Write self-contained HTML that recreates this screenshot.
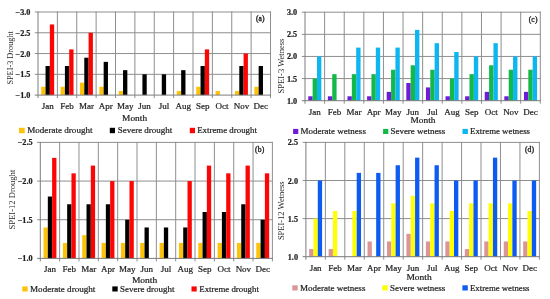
<!DOCTYPE html>
<html><head><meta charset="utf-8"><title>SPEI drought and wetness</title>
<style>
html,body{margin:0;padding:0;background:#fff;}
body{width:550px;height:299px;overflow:hidden;}
svg{display:block;}
text{font-family:'Liberation Serif', 'DejaVu Serif', serif;fill:#1e1e1e;stroke:#1e1e1e;stroke-width:0.22px;}
text.ttl{stroke:none;fill:#2a2a2a;}
text.tag{stroke:#222;stroke-width:0.35px;fill:#222;}
</style></head><body>
<svg width="550" height="299" viewBox="0 0 550 299">
<rect width="550" height="299" fill="#fff"/>
<g id="panel-a">
<line x1="34.8" y1="12" x2="271" y2="12" stroke="#8e8e8e" stroke-width="1"/>
<line x1="34.8" y1="32.77" x2="271" y2="32.77" stroke="#8e8e8e" stroke-width="1"/>
<line x1="34.8" y1="53.55" x2="271" y2="53.55" stroke="#8e8e8e" stroke-width="1"/>
<line x1="34.8" y1="74.32" x2="271" y2="74.32" stroke="#8e8e8e" stroke-width="1"/>
<line x1="57.38" y1="11.5" x2="57.38" y2="98.1" stroke="#8e8e8e" stroke-width="1"/>
<line x1="76.75" y1="11.5" x2="76.75" y2="98.1" stroke="#8e8e8e" stroke-width="1"/>
<line x1="96.12" y1="11.5" x2="96.12" y2="98.1" stroke="#8e8e8e" stroke-width="1"/>
<line x1="115.5" y1="11.5" x2="115.5" y2="98.1" stroke="#8e8e8e" stroke-width="1"/>
<line x1="134.88" y1="11.5" x2="134.88" y2="98.1" stroke="#8e8e8e" stroke-width="1"/>
<line x1="154.25" y1="11.5" x2="154.25" y2="98.1" stroke="#8e8e8e" stroke-width="1"/>
<line x1="173.62" y1="11.5" x2="173.62" y2="98.1" stroke="#8e8e8e" stroke-width="1"/>
<line x1="193" y1="11.5" x2="193" y2="98.1" stroke="#8e8e8e" stroke-width="1"/>
<line x1="212.38" y1="11.5" x2="212.38" y2="98.1" stroke="#8e8e8e" stroke-width="1"/>
<line x1="231.75" y1="11.5" x2="231.75" y2="98.1" stroke="#8e8e8e" stroke-width="1"/>
<line x1="251.12" y1="11.5" x2="251.12" y2="98.1" stroke="#8e8e8e" stroke-width="1"/>
<line x1="270.5" y1="11.5" x2="270.5" y2="98.1" stroke="#8e8e8e" stroke-width="1"/>
<rect x="41.23" y="86.79" width="4.31" height="8.31" fill="#FDC30A"/>
<rect x="45.53" y="66.02" width="4.31" height="29.08" fill="#000000"/>
<rect x="49.84" y="24.46" width="4.31" height="70.64" fill="#FB0505"/>
<rect x="60.6" y="86.79" width="4.31" height="8.31" fill="#FDC30A"/>
<rect x="64.91" y="66.02" width="4.31" height="29.08" fill="#000000"/>
<rect x="69.22" y="49.39" width="4.31" height="45.7" fill="#FB0505"/>
<rect x="79.98" y="82.63" width="4.31" height="12.47" fill="#FDC30A"/>
<rect x="84.28" y="57.7" width="4.31" height="37.39" fill="#000000"/>
<rect x="88.59" y="32.77" width="4.31" height="62.32" fill="#FB0505"/>
<rect x="99.35" y="86.79" width="4.31" height="8.31" fill="#FDC30A"/>
<rect x="103.66" y="61.86" width="4.31" height="33.24" fill="#000000"/>
<rect x="118.73" y="90.94" width="4.31" height="4.16" fill="#FDC30A"/>
<rect x="123.03" y="70.17" width="4.31" height="24.93" fill="#000000"/>
<rect x="142.41" y="74.32" width="4.31" height="20.78" fill="#000000"/>
<rect x="161.78" y="74.32" width="4.31" height="20.78" fill="#000000"/>
<rect x="176.85" y="90.94" width="4.31" height="4.16" fill="#FDC30A"/>
<rect x="181.16" y="70.17" width="4.31" height="24.93" fill="#000000"/>
<rect x="196.23" y="86.79" width="4.31" height="8.31" fill="#FDC30A"/>
<rect x="200.53" y="66.02" width="4.31" height="29.08" fill="#000000"/>
<rect x="204.84" y="49.39" width="4.31" height="45.7" fill="#FB0505"/>
<rect x="215.6" y="90.94" width="4.31" height="4.16" fill="#FDC30A"/>
<rect x="234.98" y="90.94" width="4.31" height="4.16" fill="#FDC30A"/>
<rect x="239.28" y="66.02" width="4.31" height="29.08" fill="#000000"/>
<rect x="243.59" y="53.55" width="4.31" height="41.55" fill="#FB0505"/>
<rect x="254.35" y="86.79" width="4.31" height="8.31" fill="#FDC30A"/>
<rect x="258.66" y="66.02" width="4.31" height="29.08" fill="#000000"/>
<line x1="38" y1="11.5" x2="38" y2="98.1" stroke="#7c7c7c" stroke-width="1"/>
<line x1="34.8" y1="95.1" x2="271" y2="95.1" stroke="#7c7c7c" stroke-width="1"/>
<text x="30.4" y="15" text-anchor="end" font-weight="bold" font-size="8.2">−3.0</text>
<text x="30.4" y="35.77" text-anchor="end" font-weight="bold" font-size="8.2">−2.5</text>
<text x="30.4" y="56.55" text-anchor="end" font-weight="bold" font-size="8.2">−2.0</text>
<text x="30.4" y="77.32" text-anchor="end" font-weight="bold" font-size="8.2">−1.5</text>
<text x="30.4" y="98.1" text-anchor="end" font-weight="bold" font-size="8.2">−1.0</text>
<text x="47.69" y="108.6" text-anchor="middle" font-size="9">Jan</text>
<text x="67.06" y="108.6" text-anchor="middle" font-size="9">Feb</text>
<text x="86.44" y="108.6" text-anchor="middle" font-size="9">Mar</text>
<text x="105.81" y="108.6" text-anchor="middle" font-size="9">Apr</text>
<text x="125.19" y="108.6" text-anchor="middle" font-size="9">May</text>
<text x="144.56" y="108.6" text-anchor="middle" font-size="9">Jun</text>
<text x="163.94" y="108.6" text-anchor="middle" font-size="9">Jul</text>
<text x="183.31" y="108.6" text-anchor="middle" font-size="9">Aug</text>
<text x="202.69" y="108.6" text-anchor="middle" font-size="9">Sep</text>
<text x="222.06" y="108.6" text-anchor="middle" font-size="9">Oct</text>
<text x="241.44" y="108.6" text-anchor="middle" font-size="9">Nov</text>
<text x="260.81" y="108.6" text-anchor="middle" font-size="9">Dec</text>
<text x="122.1" y="120.9" font-size="9" textLength="25" lengthAdjust="spacingAndGlyphs">Month</text>
<text transform="translate(13,84.6) rotate(-90)" x="0" y="0" font-size="8.2" class="ttl" textLength="53.5" lengthAdjust="spacingAndGlyphs">SPEI-3 Drought</text>
<rect x="19" y="127.8" width="5.7" height="5.4" fill="#FDC30A"/>
<text x="27.2" y="133.4" font-size="9" textLength="65.4" lengthAdjust="spacingAndGlyphs">Moderate drought</text>
<rect x="109.8" y="127.8" width="5.2" height="5.4" fill="#000000"/>
<text x="117.7" y="133.4" font-size="9" textLength="54.6" lengthAdjust="spacingAndGlyphs">Severe drought</text>
<rect x="189.8" y="127.8" width="5.2" height="5.4" fill="#FB0505"/>
<text x="197.2" y="133.4" font-size="9" textLength="59.7" lengthAdjust="spacingAndGlyphs">Extreme drought</text>
<text x="255.9" y="20.5" font-size="7.6" class="tag" letter-spacing="0.15">(a)</text>
</g>
<g id="panel-b">
<line x1="37.1" y1="142.4" x2="272.9" y2="142.4" stroke="#8e8e8e" stroke-width="1"/>
<line x1="37.1" y1="181.07" x2="272.9" y2="181.07" stroke="#8e8e8e" stroke-width="1"/>
<line x1="37.1" y1="219.73" x2="272.9" y2="219.73" stroke="#8e8e8e" stroke-width="1"/>
<line x1="59.64" y1="141.9" x2="59.64" y2="261.4" stroke="#8e8e8e" stroke-width="1"/>
<line x1="78.98" y1="141.9" x2="78.98" y2="261.4" stroke="#8e8e8e" stroke-width="1"/>
<line x1="98.32" y1="141.9" x2="98.32" y2="261.4" stroke="#8e8e8e" stroke-width="1"/>
<line x1="117.67" y1="141.9" x2="117.67" y2="261.4" stroke="#8e8e8e" stroke-width="1"/>
<line x1="137.01" y1="141.9" x2="137.01" y2="261.4" stroke="#8e8e8e" stroke-width="1"/>
<line x1="156.35" y1="141.9" x2="156.35" y2="261.4" stroke="#8e8e8e" stroke-width="1"/>
<line x1="175.69" y1="141.9" x2="175.69" y2="261.4" stroke="#8e8e8e" stroke-width="1"/>
<line x1="195.03" y1="141.9" x2="195.03" y2="261.4" stroke="#8e8e8e" stroke-width="1"/>
<line x1="214.38" y1="141.9" x2="214.38" y2="261.4" stroke="#8e8e8e" stroke-width="1"/>
<line x1="233.72" y1="141.9" x2="233.72" y2="261.4" stroke="#8e8e8e" stroke-width="1"/>
<line x1="253.06" y1="141.9" x2="253.06" y2="261.4" stroke="#8e8e8e" stroke-width="1"/>
<line x1="272.4" y1="141.9" x2="272.4" y2="261.4" stroke="#8e8e8e" stroke-width="1"/>
<rect x="43.52" y="227.47" width="4.3" height="30.93" fill="#FDC30A"/>
<rect x="47.82" y="196.53" width="4.3" height="61.87" fill="#000000"/>
<rect x="52.12" y="157.87" width="4.3" height="100.53" fill="#FB0505"/>
<rect x="62.87" y="242.93" width="4.3" height="15.47" fill="#FDC30A"/>
<rect x="67.16" y="204.27" width="4.3" height="54.13" fill="#000000"/>
<rect x="71.46" y="173.33" width="4.3" height="85.07" fill="#FB0505"/>
<rect x="82.21" y="235.2" width="4.3" height="23.2" fill="#FDC30A"/>
<rect x="86.51" y="204.27" width="4.3" height="54.13" fill="#000000"/>
<rect x="90.8" y="165.6" width="4.3" height="92.8" fill="#FB0505"/>
<rect x="101.55" y="242.93" width="4.3" height="15.47" fill="#FDC30A"/>
<rect x="105.85" y="204.27" width="4.3" height="54.13" fill="#000000"/>
<rect x="110.14" y="181.07" width="4.3" height="77.33" fill="#FB0505"/>
<rect x="120.89" y="242.93" width="4.3" height="15.47" fill="#FDC30A"/>
<rect x="125.19" y="219.73" width="4.3" height="38.67" fill="#000000"/>
<rect x="129.49" y="181.07" width="4.3" height="77.33" fill="#FB0505"/>
<rect x="140.23" y="242.93" width="4.3" height="15.47" fill="#FDC30A"/>
<rect x="144.53" y="227.47" width="4.3" height="30.93" fill="#000000"/>
<rect x="159.57" y="242.93" width="4.3" height="15.47" fill="#FDC30A"/>
<rect x="163.87" y="227.47" width="4.3" height="30.93" fill="#000000"/>
<rect x="178.92" y="242.93" width="4.3" height="15.47" fill="#FDC30A"/>
<rect x="183.21" y="227.47" width="4.3" height="30.93" fill="#000000"/>
<rect x="187.51" y="181.07" width="4.3" height="77.33" fill="#FB0505"/>
<rect x="198.26" y="242.93" width="4.3" height="15.47" fill="#FDC30A"/>
<rect x="202.56" y="212" width="4.3" height="46.4" fill="#000000"/>
<rect x="206.85" y="165.6" width="4.3" height="92.8" fill="#FB0505"/>
<rect x="217.6" y="242.93" width="4.3" height="15.47" fill="#FDC30A"/>
<rect x="221.9" y="212" width="4.3" height="46.4" fill="#000000"/>
<rect x="226.19" y="173.33" width="4.3" height="85.07" fill="#FB0505"/>
<rect x="236.94" y="242.93" width="4.3" height="15.47" fill="#FDC30A"/>
<rect x="241.24" y="204.27" width="4.3" height="54.13" fill="#000000"/>
<rect x="245.54" y="165.6" width="4.3" height="92.8" fill="#FB0505"/>
<rect x="256.28" y="242.93" width="4.3" height="15.47" fill="#FDC30A"/>
<rect x="260.58" y="219.73" width="4.3" height="38.67" fill="#000000"/>
<rect x="264.88" y="173.33" width="4.3" height="85.07" fill="#FB0505"/>
<line x1="40.3" y1="141.9" x2="40.3" y2="261.4" stroke="#7c7c7c" stroke-width="1"/>
<line x1="37.1" y1="258.4" x2="272.9" y2="258.4" stroke="#7c7c7c" stroke-width="1"/>
<text x="32.6" y="145.4" text-anchor="end" font-weight="bold" font-size="8.2">−2.5</text>
<text x="32.6" y="184.07" text-anchor="end" font-weight="bold" font-size="8.2">−2.0</text>
<text x="32.6" y="222.73" text-anchor="end" font-weight="bold" font-size="8.2">−1.5</text>
<text x="32.6" y="261.4" text-anchor="end" font-weight="bold" font-size="8.2">−1.0</text>
<text x="49.97" y="272" text-anchor="middle" font-size="9">Jan</text>
<text x="69.31" y="272" text-anchor="middle" font-size="9">Feb</text>
<text x="88.65" y="272" text-anchor="middle" font-size="9">Mar</text>
<text x="108" y="272" text-anchor="middle" font-size="9">Apr</text>
<text x="127.34" y="272" text-anchor="middle" font-size="9">May</text>
<text x="146.68" y="272" text-anchor="middle" font-size="9">Jun</text>
<text x="166.02" y="272" text-anchor="middle" font-size="9">Jul</text>
<text x="185.36" y="272" text-anchor="middle" font-size="9">Aug</text>
<text x="204.7" y="272" text-anchor="middle" font-size="9">Sep</text>
<text x="224.05" y="272" text-anchor="middle" font-size="9">Oct</text>
<text x="243.39" y="272" text-anchor="middle" font-size="9">Nov</text>
<text x="262.73" y="272" text-anchor="middle" font-size="9">Dec</text>
<text x="131.9" y="282.5" font-size="9" textLength="25.4" lengthAdjust="spacingAndGlyphs">Month</text>
<text transform="translate(14.5,229.5) rotate(-90)" x="0" y="0" font-size="8.2" class="ttl" textLength="59.8" lengthAdjust="spacingAndGlyphs">SPEI-12 Drought</text>
<rect x="22.3" y="286.4" width="5.4" height="5.1" fill="#FDC30A"/>
<text x="30" y="291.6" font-size="9" textLength="65.4" lengthAdjust="spacingAndGlyphs">Moderate drought</text>
<rect x="112.3" y="286.4" width="5.4" height="5.1" fill="#000000"/>
<text x="120" y="291.6" font-size="9" textLength="54.5" lengthAdjust="spacingAndGlyphs">Severe drought</text>
<rect x="191.5" y="286.4" width="5.2" height="5.1" fill="#FB0505"/>
<text x="199.3" y="291.6" font-size="9" textLength="59.6" lengthAdjust="spacingAndGlyphs">Extreme drought</text>
<text x="255" y="152.2" font-size="7.6" class="tag" letter-spacing="0.15">(b)</text>
</g>
<g id="panel-c">
<line x1="301.8" y1="12.2" x2="540.8" y2="12.2" stroke="#8e8e8e" stroke-width="1"/>
<line x1="301.8" y1="34.33" x2="540.8" y2="34.33" stroke="#8e8e8e" stroke-width="1"/>
<line x1="301.8" y1="56.45" x2="540.8" y2="56.45" stroke="#8e8e8e" stroke-width="1"/>
<line x1="301.8" y1="78.58" x2="540.8" y2="78.58" stroke="#8e8e8e" stroke-width="1"/>
<line x1="324.61" y1="11.7" x2="324.61" y2="103.7" stroke="#8e8e8e" stroke-width="1"/>
<line x1="344.22" y1="11.7" x2="344.22" y2="103.7" stroke="#8e8e8e" stroke-width="1"/>
<line x1="363.82" y1="11.7" x2="363.82" y2="103.7" stroke="#8e8e8e" stroke-width="1"/>
<line x1="383.43" y1="11.7" x2="383.43" y2="103.7" stroke="#8e8e8e" stroke-width="1"/>
<line x1="403.04" y1="11.7" x2="403.04" y2="103.7" stroke="#8e8e8e" stroke-width="1"/>
<line x1="422.65" y1="11.7" x2="422.65" y2="103.7" stroke="#8e8e8e" stroke-width="1"/>
<line x1="442.26" y1="11.7" x2="442.26" y2="103.7" stroke="#8e8e8e" stroke-width="1"/>
<line x1="461.87" y1="11.7" x2="461.87" y2="103.7" stroke="#8e8e8e" stroke-width="1"/>
<line x1="481.47" y1="11.7" x2="481.47" y2="103.7" stroke="#8e8e8e" stroke-width="1"/>
<line x1="501.08" y1="11.7" x2="501.08" y2="103.7" stroke="#8e8e8e" stroke-width="1"/>
<line x1="520.69" y1="11.7" x2="520.69" y2="103.7" stroke="#8e8e8e" stroke-width="1"/>
<line x1="540.3" y1="11.7" x2="540.3" y2="103.7" stroke="#8e8e8e" stroke-width="1"/>
<rect x="308.27" y="96.28" width="4.36" height="4.42" fill="#6E1CD8"/>
<rect x="312.63" y="78.58" width="4.36" height="22.12" fill="#12B948"/>
<rect x="316.98" y="56.45" width="4.36" height="44.25" fill="#0DB5F1"/>
<rect x="327.88" y="96.28" width="4.36" height="4.42" fill="#6E1CD8"/>
<rect x="332.23" y="74.15" width="4.36" height="26.55" fill="#12B948"/>
<rect x="347.48" y="96.28" width="4.36" height="4.42" fill="#6E1CD8"/>
<rect x="351.84" y="74.15" width="4.36" height="26.55" fill="#12B948"/>
<rect x="356.2" y="47.6" width="4.36" height="53.1" fill="#0DB5F1"/>
<rect x="367.09" y="96.28" width="4.36" height="4.42" fill="#6E1CD8"/>
<rect x="371.45" y="74.15" width="4.36" height="26.55" fill="#12B948"/>
<rect x="375.81" y="47.6" width="4.36" height="53.1" fill="#0DB5F1"/>
<rect x="386.7" y="91.85" width="4.36" height="8.85" fill="#6E1CD8"/>
<rect x="391.06" y="69.73" width="4.36" height="30.97" fill="#12B948"/>
<rect x="395.42" y="47.6" width="4.36" height="53.1" fill="#0DB5F1"/>
<rect x="406.31" y="83" width="4.36" height="17.7" fill="#6E1CD8"/>
<rect x="410.67" y="65.3" width="4.36" height="35.4" fill="#12B948"/>
<rect x="415.02" y="29.9" width="4.36" height="70.8" fill="#0DB5F1"/>
<rect x="425.92" y="87.42" width="4.36" height="13.28" fill="#6E1CD8"/>
<rect x="430.28" y="69.73" width="4.36" height="30.97" fill="#12B948"/>
<rect x="434.63" y="43.18" width="4.36" height="57.52" fill="#0DB5F1"/>
<rect x="445.53" y="96.28" width="4.36" height="4.42" fill="#6E1CD8"/>
<rect x="449.88" y="78.58" width="4.36" height="22.12" fill="#12B948"/>
<rect x="454.24" y="52.02" width="4.36" height="48.68" fill="#0DB5F1"/>
<rect x="465.13" y="96.28" width="4.36" height="4.42" fill="#6E1CD8"/>
<rect x="469.49" y="74.15" width="4.36" height="26.55" fill="#12B948"/>
<rect x="473.85" y="56.45" width="4.36" height="44.25" fill="#0DB5F1"/>
<rect x="484.74" y="91.85" width="4.36" height="8.85" fill="#6E1CD8"/>
<rect x="489.1" y="65.3" width="4.36" height="35.4" fill="#12B948"/>
<rect x="493.46" y="43.18" width="4.36" height="57.52" fill="#0DB5F1"/>
<rect x="504.35" y="96.28" width="4.36" height="4.42" fill="#6E1CD8"/>
<rect x="508.71" y="69.73" width="4.36" height="30.97" fill="#12B948"/>
<rect x="513.07" y="56.45" width="4.36" height="44.25" fill="#0DB5F1"/>
<rect x="523.96" y="91.85" width="4.36" height="8.85" fill="#6E1CD8"/>
<rect x="528.32" y="69.73" width="4.36" height="30.97" fill="#12B948"/>
<rect x="532.67" y="56.45" width="4.36" height="44.25" fill="#0DB5F1"/>
<line x1="305" y1="11.7" x2="305" y2="103.7" stroke="#7c7c7c" stroke-width="1"/>
<line x1="301.8" y1="100.7" x2="540.8" y2="100.7" stroke="#7c7c7c" stroke-width="1"/>
<text x="297.2" y="15.2" text-anchor="end" font-weight="bold" font-size="8.2">3.0</text>
<text x="297.2" y="37.33" text-anchor="end" font-weight="bold" font-size="8.2">2.5</text>
<text x="297.2" y="59.45" text-anchor="end" font-weight="bold" font-size="8.2">2.0</text>
<text x="297.2" y="81.58" text-anchor="end" font-weight="bold" font-size="8.2">1.5</text>
<text x="297.2" y="103.7" text-anchor="end" font-weight="bold" font-size="8.2">1.0</text>
<text x="314.8" y="115" text-anchor="middle" font-size="9">Jan</text>
<text x="334.41" y="115" text-anchor="middle" font-size="9">Feb</text>
<text x="354.02" y="115" text-anchor="middle" font-size="9">Mar</text>
<text x="373.63" y="115" text-anchor="middle" font-size="9">Apr</text>
<text x="393.24" y="115" text-anchor="middle" font-size="9">May</text>
<text x="412.85" y="115" text-anchor="middle" font-size="9">Jun</text>
<text x="432.45" y="115" text-anchor="middle" font-size="9">Jul</text>
<text x="452.06" y="115" text-anchor="middle" font-size="9">Aug</text>
<text x="471.67" y="115" text-anchor="middle" font-size="9">Sep</text>
<text x="491.28" y="115" text-anchor="middle" font-size="9">Oct</text>
<text x="510.89" y="115" text-anchor="middle" font-size="9">Nov</text>
<text x="530.5" y="115" text-anchor="middle" font-size="9">Dec</text>
<text x="410.5" y="122.6" font-size="9" textLength="25" lengthAdjust="spacingAndGlyphs">Month</text>
<text transform="translate(284,93.5) rotate(-90)" x="0" y="0" font-size="8.2" class="ttl" textLength="54.9" lengthAdjust="spacingAndGlyphs">SPEI-3 Wetness</text>
<rect x="293.1" y="128.9" width="5.2" height="5.1" fill="#6E1CD8"/>
<text x="300.5" y="133.9" font-size="9" textLength="65.4" lengthAdjust="spacingAndGlyphs">Moderate wetness</text>
<rect x="383.1" y="128.9" width="5.2" height="5.1" fill="#12B948"/>
<text x="390.5" y="133.9" font-size="9" textLength="54.8" lengthAdjust="spacingAndGlyphs">Severe wetness</text>
<rect x="462.5" y="128.9" width="5.4" height="5.1" fill="#0DB5F1"/>
<text x="470.1" y="133.9" font-size="9" textLength="59.9" lengthAdjust="spacingAndGlyphs">Extreme wetness</text>
<text x="528.7" y="22" font-size="7.6" class="tag" letter-spacing="0.15">(c)</text>
</g>
<g id="panel-d">
<line x1="302.7" y1="142.4" x2="539.9" y2="142.4" stroke="#8e8e8e" stroke-width="1"/>
<line x1="302.7" y1="180.5" x2="539.9" y2="180.5" stroke="#8e8e8e" stroke-width="1"/>
<line x1="302.7" y1="218.6" x2="539.9" y2="218.6" stroke="#8e8e8e" stroke-width="1"/>
<line x1="325.36" y1="141.9" x2="325.36" y2="259.7" stroke="#8e8e8e" stroke-width="1"/>
<line x1="344.82" y1="141.9" x2="344.82" y2="259.7" stroke="#8e8e8e" stroke-width="1"/>
<line x1="364.27" y1="141.9" x2="364.27" y2="259.7" stroke="#8e8e8e" stroke-width="1"/>
<line x1="383.73" y1="141.9" x2="383.73" y2="259.7" stroke="#8e8e8e" stroke-width="1"/>
<line x1="403.19" y1="141.9" x2="403.19" y2="259.7" stroke="#8e8e8e" stroke-width="1"/>
<line x1="422.65" y1="141.9" x2="422.65" y2="259.7" stroke="#8e8e8e" stroke-width="1"/>
<line x1="442.11" y1="141.9" x2="442.11" y2="259.7" stroke="#8e8e8e" stroke-width="1"/>
<line x1="461.57" y1="141.9" x2="461.57" y2="259.7" stroke="#8e8e8e" stroke-width="1"/>
<line x1="481.02" y1="141.9" x2="481.02" y2="259.7" stroke="#8e8e8e" stroke-width="1"/>
<line x1="500.48" y1="141.9" x2="500.48" y2="259.7" stroke="#8e8e8e" stroke-width="1"/>
<line x1="519.94" y1="141.9" x2="519.94" y2="259.7" stroke="#8e8e8e" stroke-width="1"/>
<line x1="539.4" y1="141.9" x2="539.4" y2="259.7" stroke="#8e8e8e" stroke-width="1"/>
<rect x="309.14" y="249.08" width="4.32" height="7.62" fill="#DB9597"/>
<rect x="313.47" y="218.6" width="4.32" height="38.1" fill="#FEFE05"/>
<rect x="317.79" y="180.5" width="4.32" height="76.2" fill="#0E5BF2"/>
<rect x="328.6" y="249.08" width="4.32" height="7.62" fill="#DB9597"/>
<rect x="332.93" y="210.98" width="4.32" height="45.72" fill="#FEFE05"/>
<rect x="352.38" y="210.98" width="4.32" height="45.72" fill="#FEFE05"/>
<rect x="356.71" y="172.88" width="4.32" height="83.82" fill="#0E5BF2"/>
<rect x="367.52" y="241.46" width="4.32" height="15.24" fill="#DB9597"/>
<rect x="376.17" y="172.88" width="4.32" height="83.82" fill="#0E5BF2"/>
<rect x="386.98" y="241.46" width="4.32" height="15.24" fill="#DB9597"/>
<rect x="391.3" y="203.36" width="4.32" height="53.34" fill="#FEFE05"/>
<rect x="395.62" y="165.26" width="4.32" height="91.44" fill="#0E5BF2"/>
<rect x="406.43" y="233.84" width="4.32" height="22.86" fill="#DB9597"/>
<rect x="410.76" y="195.74" width="4.32" height="60.96" fill="#FEFE05"/>
<rect x="415.08" y="157.64" width="4.32" height="99.06" fill="#0E5BF2"/>
<rect x="425.89" y="241.46" width="4.32" height="15.24" fill="#DB9597"/>
<rect x="430.22" y="203.36" width="4.32" height="53.34" fill="#FEFE05"/>
<rect x="434.54" y="165.26" width="4.32" height="91.44" fill="#0E5BF2"/>
<rect x="445.35" y="241.46" width="4.32" height="15.24" fill="#DB9597"/>
<rect x="449.68" y="210.98" width="4.32" height="45.72" fill="#FEFE05"/>
<rect x="454" y="180.5" width="4.32" height="76.2" fill="#0E5BF2"/>
<rect x="464.81" y="249.08" width="4.32" height="7.62" fill="#DB9597"/>
<rect x="469.13" y="203.36" width="4.32" height="53.34" fill="#FEFE05"/>
<rect x="473.46" y="180.5" width="4.32" height="76.2" fill="#0E5BF2"/>
<rect x="484.27" y="241.46" width="4.32" height="15.24" fill="#DB9597"/>
<rect x="488.59" y="203.36" width="4.32" height="53.34" fill="#FEFE05"/>
<rect x="492.92" y="157.64" width="4.32" height="99.06" fill="#0E5BF2"/>
<rect x="503.73" y="241.46" width="4.32" height="15.24" fill="#DB9597"/>
<rect x="508.05" y="203.36" width="4.32" height="53.34" fill="#FEFE05"/>
<rect x="512.37" y="180.5" width="4.32" height="76.2" fill="#0E5BF2"/>
<rect x="523.18" y="241.46" width="4.32" height="15.24" fill="#DB9597"/>
<rect x="527.51" y="210.98" width="4.32" height="45.72" fill="#FEFE05"/>
<rect x="531.83" y="180.5" width="4.32" height="76.2" fill="#0E5BF2"/>
<line x1="305.9" y1="141.9" x2="305.9" y2="259.7" stroke="#7c7c7c" stroke-width="1"/>
<line x1="302.7" y1="256.7" x2="539.9" y2="256.7" stroke="#7c7c7c" stroke-width="1"/>
<text x="298" y="145.4" text-anchor="end" font-weight="bold" font-size="8.2">2.5</text>
<text x="298" y="183.5" text-anchor="end" font-weight="bold" font-size="8.2">2.0</text>
<text x="298" y="221.6" text-anchor="end" font-weight="bold" font-size="8.2">1.5</text>
<text x="298" y="259.7" text-anchor="end" font-weight="bold" font-size="8.2">1.0</text>
<text x="315.63" y="271.4" text-anchor="middle" font-size="9">Jan</text>
<text x="335.09" y="271.4" text-anchor="middle" font-size="9">Feb</text>
<text x="354.55" y="271.4" text-anchor="middle" font-size="9">Mar</text>
<text x="374" y="271.4" text-anchor="middle" font-size="9">Apr</text>
<text x="393.46" y="271.4" text-anchor="middle" font-size="9">May</text>
<text x="412.92" y="271.4" text-anchor="middle" font-size="9">Jun</text>
<text x="432.38" y="271.4" text-anchor="middle" font-size="9">Jul</text>
<text x="451.84" y="271.4" text-anchor="middle" font-size="9">Aug</text>
<text x="471.3" y="271.4" text-anchor="middle" font-size="9">Sep</text>
<text x="490.75" y="271.4" text-anchor="middle" font-size="9">Oct</text>
<text x="510.21" y="271.4" text-anchor="middle" font-size="9">Nov</text>
<text x="529.67" y="271.4" text-anchor="middle" font-size="9">Dec</text>
<text x="406.4" y="279.6" font-size="9" textLength="25.3" lengthAdjust="spacingAndGlyphs">Month</text>
<text transform="translate(284.2,240.1) rotate(-90)" x="0" y="0" font-size="8.2" class="ttl" textLength="58.7" lengthAdjust="spacingAndGlyphs">SPEI-12 Wetness</text>
<rect x="292.3" y="285.3" width="5.4" height="5.2" fill="#DB9597"/>
<text x="300" y="290.6" font-size="9" textLength="65.4" lengthAdjust="spacingAndGlyphs">Moderate wetness</text>
<rect x="382.3" y="285.3" width="5.4" height="5.2" fill="#FEFE05"/>
<text x="390" y="290.6" font-size="9" textLength="55.3" lengthAdjust="spacingAndGlyphs">Severe wetness</text>
<rect x="462.4" y="285.3" width="5.4" height="5.2" fill="#0E5BF2"/>
<text x="470" y="290.6" font-size="9" textLength="59.5" lengthAdjust="spacingAndGlyphs">Extreme wetness</text>
<text x="524.9" y="151.5" font-size="7.6" class="tag" letter-spacing="0.15">(d)</text>
</g>
</svg>
</body></html>
